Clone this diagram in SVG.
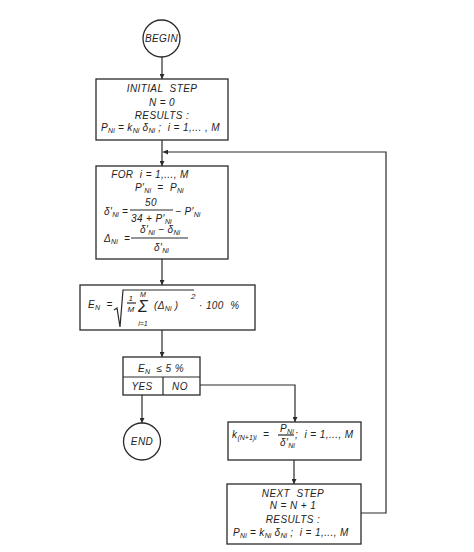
<svg xmlns="http://www.w3.org/2000/svg" width="474" height="552" viewBox="0 0 474 552">
<style>
.b{fill:#fff;stroke:#2a2a2a;stroke-width:1.3}
.c{fill:none;stroke:#2a2a2a;stroke-width:1.2}
.t{font-family:"Liberation Sans",Arial,sans-serif;font-style:italic;font-size:10px;fill:#222;letter-spacing:0.4px;white-space:pre}
.m{text-anchor:middle}
.s{font-size:7px;letter-spacing:0}
.f8{font-size:8px}
.sg{font-size:16px}
</style>
<defs>
<marker id="ah" viewBox="0 0 6 6" refX="6" refY="3" markerWidth="5" markerHeight="5" orient="auto" markerUnits="userSpaceOnUse">
<path d="M0,0 L6,3 L0,6 Z" fill="#2a2a2a"/>
</marker>
</defs>
<rect width="474" height="552" fill="#fff"/>
<g id="connectors">
<line class="c" x1="162" y1="57" x2="162" y2="79" marker-end="url(#ah)"/>
<line class="c" x1="162" y1="140" x2="162" y2="166" marker-end="url(#ah)"/>
<line class="c" x1="162" y1="259" x2="162" y2="285" marker-end="url(#ah)"/>
<line class="c" x1="162" y1="330" x2="162" y2="357" marker-end="url(#ah)"/>
<line class="c" x1="142" y1="395" x2="142" y2="423" marker-end="url(#ah)"/>
<polyline class="c" points="200,385 295,385 295,422" marker-end="url(#ah)"/>
<line class="c" x1="294" y1="460" x2="294" y2="484" marker-end="url(#ah)"/>
<polyline class="c" points="361,513 386,513 386,152 163,152" marker-end="url(#ah)"/>
</g>
<g id="begin">
<circle class="b" cx="161.5" cy="38.5" r="18.5"/>
<text class="t m" x="161.5" y="42">BEGIN</text>
</g>
<g id="initial">
<rect class="b" x="96" y="79" width="132" height="61"/>
<text class="t m" x="162" y="92">INITIAL  STEP</text>
<text class="t m" x="162" y="106">N = 0</text>
<text class="t m" x="162" y="119">RESULTS :</text>
<text class="t" x="101" y="131">P<tspan class="s" dy="2">Ni</tspan><tspan dy="-2"> = k</tspan><tspan class="s" dy="2">Ni</tspan><tspan dy="-2"> δ</tspan><tspan class="s" dy="2">Ni</tspan><tspan dy="-2"> ;  i = 1,... , M</tspan></text>
</g>
<g id="loop">
<rect class="b" x="96" y="166" width="132" height="93"/>
<text class="t m" x="150" y="178">FOR  i = 1,..., M</text>
<text class="t" x="135" y="191">P′<tspan class="s" dy="2">Ni</tspan><tspan dy="-2">  =  P</tspan><tspan class="s" dy="2">Ni</tspan></text>
<text class="t" x="104" y="215">δ′<tspan class="s" dy="2">Ni</tspan><tspan dy="-2"> =</tspan></text>
<text class="t m" x="151" y="206">50</text>
<line class="c" x1="130" y1="210" x2="173" y2="210" stroke-width="0.9"/>
<text class="t" x="131" y="222">34 + P′<tspan class="s" dy="2">Ni</tspan></text>
<text class="t" x="175" y="215">− P′<tspan class="s" dy="2">Ni</tspan></text>
<text class="t" x="104" y="242">Δ<tspan class="s" dy="2">Ni</tspan><tspan dy="-2">  =</tspan></text>
<text class="t" x="140" y="233">δ′<tspan class="s" dy="2">Ni</tspan><tspan dy="-2"> − δ</tspan><tspan class="s" dy="2">Ni</tspan></text>
<line class="c" x1="131" y1="238" x2="188" y2="238" stroke-width="0.9"/>
<text class="t" x="154" y="251">δ′<tspan class="s" dy="2">Ni</tspan></text>
</g>
<g id="error">
<rect class="b" x="80" y="285" width="175" height="45"/>
<text class="t" x="88" y="308">E<tspan class="s" dy="2">N</tspan><tspan dy="-2">  =</tspan></text>
<path class="c" d="M114,310 L117,308 L120,327 L123,290 L194,290" stroke-width="0.9"/>
<text class="t m f8" x="131" y="301">1</text>
<line class="c" x1="127" y1="303" x2="136" y2="303" stroke-width="0.8"/>
<text class="t m f8" x="131" y="312">M</text>
<text class="t m sg" x="143" y="312">Σ</text>
<text class="t m s" x="143" y="297">M</text>
<text class="t m s" x="143" y="326">i=1</text>
<text class="t" x="154" y="309">(Δ<tspan class="s" dy="2">Ni</tspan><tspan dy="-2"> )</tspan></text>
<text class="t f8" x="191" y="299">2</text>
<text class="t" x="199" y="309">· 100  %</text>
</g>
<g id="decision">
<rect class="b" x="123" y="357" width="77" height="38"/>
<line class="c" x1="123" y1="377" x2="200" y2="377"/>
<line class="c" x1="163" y1="377" x2="163" y2="395"/>
<text class="t m" x="161" y="372">E<tspan class="s" dy="2">N</tspan><tspan dy="-2">  ≤ 5 %</tspan></text>
<text class="t m" x="142" y="390">YES</text>
<text class="t m" x="180" y="390">NO</text>
</g>
<g id="end">
<circle class="b" cx="142" cy="441.5" r="18.5"/>
<text class="t m" x="142" y="445">END</text>
</g>
<g id="update">
<rect class="b" x="228" y="422" width="133" height="38"/>
<text class="t" x="232" y="438">k<tspan class="s" dy="2">(N+1)i</tspan><tspan dy="-2">  =</tspan></text>
<text class="t" x="280" y="432">P<tspan class="s" dy="2">Ni</tspan></text>
<line class="c" x1="278" y1="435" x2="294" y2="435" stroke-width="0.8"/>
<text class="t" x="280" y="446">δ′<tspan class="s" dy="2">Ni</tspan></text>
<text class="t" x="295" y="438">;  i = 1,..., M</text>
</g>
<g id="next">
<rect class="b" x="227" y="484" width="134" height="60"/>
<text class="t m" x="293" y="497">NEXT  STEP</text>
<text class="t m" x="293" y="509">N = N + 1</text>
<text class="t m" x="293" y="523">RESULTS :</text>
<text class="t" x="233" y="536">P<tspan class="s" dy="2">Ni</tspan><tspan dy="-2"> = k</tspan><tspan class="s" dy="2">Ni</tspan><tspan dy="-2"> δ</tspan><tspan class="s" dy="2">Ni</tspan><tspan dy="-2"> ;  i = 1,..., M</tspan></text>
</g>
</svg>
